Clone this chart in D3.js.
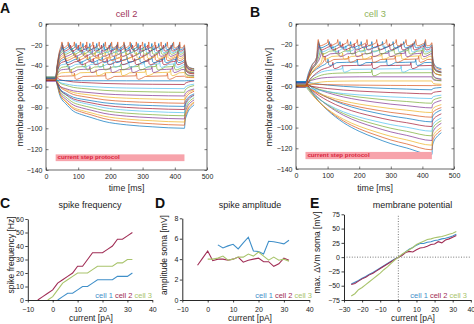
<!DOCTYPE html>
<html>
<head>
<meta charset="utf-8">
<script src="https://cdn.jsdelivr.net/npm/d3@7"></script>
<style>
  body { margin: 0; background: #fff; }
  svg { font-family: "Liberation Sans", Arial, sans-serif; }
</style>
</head>
<body>
<svg id="fig" width="474" height="324"></svg>
<script>
// ---- data ----
const stepCurrents = [-26,-24,-22,-20,-18,-16,-14,-12,-10,-8,-6,-4,-2,0,2,4,6,8,10,12,14,16,18,20,22,24,26,28,30,32];

// C: spike frequency [Hz]
const freqCell1 = [null,null,null,null,null,null,null,null,null,null,null,null,null,null,0,2.5,5,5,7.5,10,10,12.5,15,15,15,15,17.5,17.5,17.5,20];
const freqCell2 = [null,null,null,null,null,null,null,null,null,null,0,2.5,5,7.5,12.5,15,17.5,20,25,25,30,35,35,35,37.5,40,45,45,47.5,50];
const freqCell3 = [null,null,null,null,null,null,null,null,null,null,null,null,0,2.5,7.5,12.5,15,17.5,20,20,20,22.5,25,25,25,25,27.5,27.5,30,30];

// D: spike amplitude soma [mV]
const ampCell1 = [null,null,null,null,null,null,null,null,null,null,null,null,null,null,null,5.4,5.1,5.3,5.45,5.0,5.6,6.15,4.8,4.75,4.5,5.75,5.7,5.6,5.5,5.85];
const ampCell2 = [null,null,null,null,null,null,null,null,null,null,null,3.4,4.1,4.8,3.85,4.0,4.0,3.9,4.0,4.2,3.7,3.9,4.0,4.1,3.75,3.75,3.3,3.55,4.1,3.9];
const ampCell3 = [null,null,null,null,null,null,null,null,null,null,null,null,null,4.0,4.0,4.1,4.3,3.9,4.0,4.2,4.2,4.5,4.3,4.7,4.3,3.9,4.2,3.9,4.0,3.8];

// E: max. dVm soma [mV]
const dvCell1 = [-47,-44,-41,-37,-34,-30,-27,-23,-19,-15,-11,-7,-3,0,4,9,14,17,21,24,24,26,27,29,30,32,33,35,37,40];
const dvCell2 = [-48,-46,-42,-38,-35,-31,-28,-24,-20,-16,-12,-8,-4,0,3,8,10,9,13,16,17,19,22,23,27,25,30,32,35,38];
const dvCell3 = [-68,-64,-57,-53,-48,-43,-38,-33,-28,-22,-17,-11,-5,0,5,9,13,17,22,25,28,31,32,34,35,36,38,40,42,45];

// A (cell 2) and B (cell 3): one trace per current step
const baseA = [-53,-52,-54,-53,-52,-51,-53,-54,-52,-53,-55,-52,-53,-51,-54,-52,-53,-52,-54,-51,-53,-52,-54,-53,-52,-51,-53,-54,-52,-53];
const levelsA = [-100,-97,-94,-91,-88,-85,-82,-79,-76,-72.5,-69,-65.5,-62,-58,-54.5,-50,-46.5,-43.5,-41,-38.5,-36,-34,-32,-30,-28,-26,-24.5,-23,-21.5,-20];
const spikesA = [0,0,0,0,0,0,0,0,0,0,0,0,0,0,0,4,5,6,7,8,9,10,11,12,13,14,15,16,18,20];

const baseB = [-56,-58,-60,-57,-59,-61,-58,-56,-59,-60,-57,-58,-61,-59,-56,-58,-60,-57,-59,-58,-61,-56,-58,-60,-57,-59,-58,-60,-56,-59];
const levelsB = [-126,-121.5,-117,-112.5,-108,-103.5,-99,-94.5,-90,-85.5,-81,-76.5,-72,-67.5,-63.5,-59.5,-55,-51,-47,-43.5,-40,-37,-34,-31,-28.5,-26,-24,-22,-20,-18];
const spikesB = [0,0,0,0,0,0,0,0,0,0,0,0,0,0,0,0,0,0,1,2,3,4,5,6,7,8,9,10,11,12];

// trace shapes (fraction of the step deflection vs time [ms])
const profADown = [[35,0.12],[43,0.33],[50,0.42],[60,0.49],[85,0.65],[110,0.72],[140,0.78],[180,0.86],[250,0.93],[330,0.97],[430,1]];
const profAUp   = [[34,0.35],[38,0.62],[42,0.82],[48,0.95],[60,1],[430,1]];
const postADown = [[432,0.85],[436,0.75],[442,0.65],[450,0.58],[460,0.52]];
const postAUp   = [[432,0.7],[436,0.45],[442,0.36],[450,0.32],[460,0.3]];

const profBDown = [[40,0.07],[50,0.14],[75,0.28],[100,0.39],[150,0.56],[200,0.68],[250,0.77],[300,0.85],[350,0.91],[430,1]];
const profBUp   = [[40,0.25],[50,0.45],[65,0.65],[80,0.8],[100,0.9],[130,0.96],[200,1],[430,1]];
const postBDown = [[432,0.88],[436,0.82],[445,0.76],[460,0.7]];
const postBUp   = [[432,0.7],[436,0.5],[445,0.4],[460,0.36]];

// scallop after each spike: [fraction of interval, depth of the after-hyperpolarisation]
const scallop = [[0.08,0.75],[0.2,1.0],[0.35,0.95],[0.55,0.7],[0.75,0.38],[0.92,0.1]];

const xTicksTime = [0,100,200,300,400,500];
const yTicksMV = [0,-20,-40,-60,-80,-100,-120,-140];

// ---- drawing ----
const svg = d3.select('#fig');
const dark = '#262626';
const matlab = ['#0072BD','#D95319','#EDB120','#7E2F8E','#77AC30','#4DBEEE','#A2142F'];
const cellColors = ['#3f8fc9','#a02d55','#a9c46c'];

function tracePoints(base, level, nSp, cfg) {
  const pts = [[0, base], [30, base]];
  const dv = level - base;
  if (nSp === 0) {
    (dv < 0 ? cfg.down : cfg.up).forEach(([t, f]) => pts.push([t, base + dv * f]));
  } else {
    const isi = (cfg.tEnd - cfg.tFirst) / nSp;
    const times = d3.range(nSp).map(k => cfg.tFirst + (k + 0.5) * isi);
    cfg.up.forEach(([t, f]) => { if (t < times[0] - 2.5) pts.push([t, base + dv * f]); });
    times.forEach((ts, k) => {
      const prev = pts[pts.length - 1][0];
      if (ts - prev > 2.5) pts.push([ts - 1.5, level + 0.3]);
      pts.push([ts, level + cfg.amp]);
      const next = k < nSp - 1 ? times[k + 1] : 430;
      const g = Math.min(isi, 30);
      scallop.forEach(([a, d]) => {
        const t = ts + g * a;
        if (t < next - 1.2) pts.push([t, level - cfg.ahp * d]);
      });
    });
    pts.push([430, level]);
  }
  (dv < 0 ? cfg.postDown : cfg.postUp).forEach(([t, f]) => pts.push([t, base + dv * f]));
  return pts;
}

function tracePanel(cfg) {
  const x = d3.scaleLinear().domain([0, 500]).range(cfg.xr);
  const y = d3.scaleLinear().domain([-140, 0]).range(cfg.yr);
  const g = svg.append('g');
  const line = d3.line().x(d => x(d[0])).y(d => y(d[1])).curve(d3.curveMonotoneX);

  cfg.levels.forEach((lv, i) => {
    g.append('path')
      .attr('d', line(tracePoints(cfg.base[i], lv, cfg.spikes[i], cfg)))
      .attr('fill', 'none')
      .attr('stroke', matlab[i % 7])
      .attr('stroke-width', 0.7);
  });

  // stimulus bar
  g.append('rect')
    .attr('x', x(30)).attr('y', y(cfg.bar[0]))
    .attr('width', x(430) - x(30)).attr('height', y(cfg.bar[1]) - y(cfg.bar[0]))
    .attr('fill', '#f7a3ab');
  g.append('text')
    .attr('x', x(36)).attr('y', y(cfg.bar[1]) - 2)
    .attr('font-size', 6.2).attr('font-weight', 'bold').attr('fill', '#d9243c')
    .text('current step protocol');

  // box axes, ticks inside
  const [x0, x1] = x.range(), [y0, y1] = y.range();
  g.append('g').attr('transform', `translate(0,${y0})`)
    .call(d3.axisBottom(x).tickValues(xTicksTime).tickSizeInner(-2.5).tickSizeOuter(0).tickPadding(4.5));
  g.append('g').attr('transform', `translate(0,${y1})`)
    .call(d3.axisTop(x).tickValues(xTicksTime).tickSizeInner(-2.5).tickSizeOuter(0).tickFormat(''));
  g.append('g').attr('transform', `translate(${x0},0)`)
    .call(d3.axisLeft(y).tickValues(yTicksMV).tickSizeInner(-2.5).tickSizeOuter(0).tickPadding(3.5));
  g.append('g').attr('transform', `translate(${x1},0)`)
    .call(d3.axisRight(y).tickValues(yTicksMV).tickSizeInner(-2.5).tickSizeOuter(0).tickFormat(''));
  g.selectAll('.domain').remove();
  g.selectAll('.tick line').attr('stroke', dark).attr('stroke-width', 0.6);
  g.selectAll('.tick text').attr('font-size', 7).attr('fill', dark).attr('font-family', null);
  g.append('rect').attr('x', x0).attr('y', y1).attr('width', x1 - x0).attr('height', y0 - y1)
    .attr('fill', 'none').attr('stroke', dark).attr('stroke-width', 0.7);

  g.append('text').attr('x', (x0 + x1) / 2).attr('y', 16.5).attr('text-anchor', 'middle')
    .attr('font-size', 9.3).attr('fill', cfg.titleColor).text(cfg.title);
  g.append('text').attr('x', (x0 + x1) / 2).attr('y', 190.5).attr('text-anchor', 'middle')
    .attr('font-size', 8.8).attr('fill', dark).text('time [ms]');
  g.append('text').attr('transform', `translate(${cfg.ylabX},97) rotate(-90)`).attr('text-anchor', 'middle')
    .attr('font-size', 8.8).attr('fill', dark).text('membrane potential [mV]');
}

tracePanel({
  xr: [46, 207], yr: [170, 24], base: baseA, levels: levelsA, spikes: spikesA,
  down: profADown, up: profAUp, postDown: postADown, postUp: postAUp,
  tFirst: 40, tEnd: 425, amp: 2.8, ahp: 3, bar: [-125, -131.5],
  title: 'cell 2', titleColor: '#a2355a', ylabX: 23
});
tracePanel({
  xr: [296, 454], yr: [169, 24], base: baseB, levels: levelsB, spikes: spikesB,
  down: profBDown, up: profBUp, postDown: postBDown, postUp: postBUp,
  tFirst: 55, tEnd: 425, amp: 3, ahp: 3, bar: [-123.5, -130.5],
  title: 'cell 3', titleColor: '#8fb35c', ylabX: 272
});

// ---- Prism style panels ----
function xyPanel(cfg) {
  const x = d3.scaleLinear().domain(cfg.xd).range(cfg.xr);
  const y = d3.scaleLinear().domain(cfg.yd).range(cfg.yr);
  const g = svg.append('g');

  if (cfg.zeroLines) {
    g.append('line').attr('x1', x(0)).attr('x2', x(0)).attr('y1', cfg.yr[0]).attr('y2', cfg.yr[1])
      .attr('stroke', '#555').attr('stroke-width', 0.8).attr('stroke-dasharray', '1,1.6');
    g.append('line').attr('x1', cfg.xr[0]).attr('x2', cfg.xr[1]).attr('y1', y(0)).attr('y2', y(0))
      .attr('stroke', '#555').attr('stroke-width', 0.8).attr('stroke-dasharray', '1,1.6');
  }

  const line = d3.line().defined(d => d[1] !== null).x(d => x(d[0])).y(d => y(d[1]));
  cfg.series.forEach((s, i) => {
    g.append('path').attr('d', line(stepCurrents.map((c, k) => [c, s[k]])))
      .attr('fill', 'none').attr('stroke', cellColors[i]).attr('stroke-width', 1.1);
  });

  g.append('g').attr('transform', `translate(0,${cfg.yr[0]})`)
    .call(d3.axisBottom(x).tickValues(cfg.xt).tickSize(2.5).tickSizeOuter(0).tickPadding(5));
  g.append('g').attr('transform', `translate(${cfg.xr[0]},0)`)
    .call(d3.axisLeft(y).tickValues(cfg.yt).tickSize(2.5).tickSizeOuter(0).tickPadding(1.5));
  g.selectAll('.domain').attr('stroke', '#111').attr('stroke-width', 0.9);
  g.selectAll('.tick line').attr('stroke', '#111').attr('stroke-width', 0.8);
  g.selectAll('.tick text').attr('font-size', 7).attr('fill', '#222').attr('font-family', null);

  g.append('text').attr('x', cfg.titleX).attr('y', 207.5).attr('text-anchor', 'middle')
    .attr('font-size', 9).attr('fill', '#222').text(cfg.title);
  g.append('text').attr('x', cfg.xlabX).attr('y', 321).attr('text-anchor', 'middle')
    .attr('font-size', 8.5).attr('fill', '#222').text('current [pA]');
  g.append('text').attr('transform', `translate(${cfg.ylabX},${cfg.ylabY}) rotate(-90)`)
    .attr('text-anchor', 'middle').attr('font-size', 8.5).attr('fill', '#222').text(cfg.ylab);

  const leg = g.append('text').attr('x', cfg.legX).attr('y', 298).attr('text-anchor', 'end').attr('font-size', 7.5);
  ['cell 1 ', 'cell 2 ', 'cell 3'].forEach((t, i) => leg.append('tspan').attr('fill', cellColors[i]).text(t));
}

xyPanel({
  xd: [-10, 40], xr: [27.8, 152.3], yd: [0, 60], yr: [300, 219],
  xt: [-10,0,10,20,30,40], yt: [0,10,20,30,40,50,60],
  series: [freqCell1, freqCell2, freqCell3],
  title: 'spike frequency', titleX: 90, xlabX: 91, ylab: 'spike frequency [Hz]', ylabX: 13.5, ylabY: 255, legX: 152
});
xyPanel({
  xd: [-10, 40], xr: [182.3, 309.3], yd: [0, 8], yr: [300, 218.3],
  xt: [-10,0,10,20,30,40], yt: [0,2,4,6,8],
  series: [ampCell1, ampCell2, ampCell3],
  title: 'spike amplitude', titleX: 250, xlabX: 250, ylab: 'amplitude soma [mV]', ylabX: 167, ylabY: 255, legX: 312
});
xyPanel({
  xd: [-30, 40], xr: [344, 470.8], yd: [-75, 75], yr: [300, 214.3],
  xt: [-30,-20,-10,0,10,20,30,40], yt: [-75,-50,-25,0,25,50,75],
  series: [dvCell1, dvCell2, dvCell3], zeroLines: true,
  title: 'membrane potential', titleX: 412.5, xlabX: 413, ylab: 'max. \u0394Vm soma [mV]', ylabX: 319.5, ylabY: 252.5, legX: 467
});

// panel letters
[['A', 0, 12.7], ['B', 250, 16.7], ['C', 0, 208.3], ['D', 155, 208.3], ['E', 310, 208.3]].forEach(([l, x, y]) => {
  svg.append('text').attr('x', x).attr('y', y).attr('font-size', 14).attr('font-weight', 'bold').attr('fill', '#111').text(l);
});
</script>
</body>
</html>
